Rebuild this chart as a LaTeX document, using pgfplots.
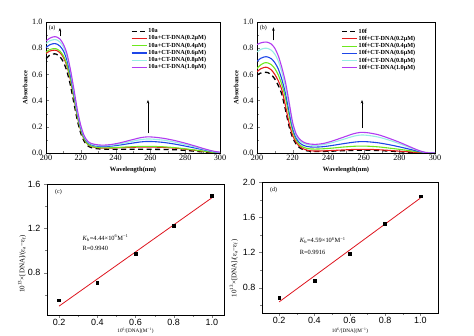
\documentclass[border=0pt]{standalone}
\usepackage{fontspec}
\setmainfont{Liberation Serif}
\newfontfamily\arialfont{Liberation Sans}
\usepackage{pgfplots}
\pgfplotsset{compat=1.18}
\usepackage{pgfplotstable}
\usetikzlibrary{arrows.meta}

\definecolor{cRed}{RGB}{228,28,28}
\definecolor{cGreen}{RGB}{110,232,30}
\definecolor{cBlue}{RGB}{30,70,232}
\definecolor{cCyan}{RGB}{150,238,228}
\definecolor{cPurple}{RGB}{178,60,240}
\definecolor{cLine}{RGB}{222,20,30}

% x, 10a, 0.2, 0.4, 0.6, 0.8, 1.0
\pgfplotstableread{
x k r g b c p
200 0.720 0.760 0.770 0.805 0.835 0.855
202 0.745 0.777 0.788 0.825 0.855 0.875
204 0.755 0.784 0.796 0.834 0.864 0.886
205 0.757 0.785 0.797 0.835 0.866 0.888
206 0.754 0.783 0.795 0.833 0.864 0.886
208 0.735 0.766 0.778 0.816 0.848 0.870
210 0.695 0.730 0.742 0.780 0.810 0.830
212 0.625 0.665 0.675 0.710 0.740 0.760
214 0.520 0.560 0.570 0.600 0.625 0.640
216 0.385 0.425 0.430 0.455 0.475 0.490
218 0.250 0.280 0.285 0.305 0.320 0.330
220 0.150 0.172 0.175 0.190 0.200 0.210
222 0.088 0.103 0.105 0.118 0.125 0.130
224 0.055 0.066 0.068 0.080 0.085 0.090
226 0.041 0.050 0.052 0.063 0.068 0.073
228 0.035 0.043 0.045 0.055 0.060 0.066
230 0.032 0.039 0.041 0.051 0.056 0.062
233 0.030 0.037 0.039 0.049 0.054 0.060
237 0.029 0.038 0.040 0.052 0.058 0.064
242 0.029 0.040 0.043 0.060 0.068 0.076
248 0.029 0.043 0.047 0.072 0.085 0.096
254 0.029 0.045 0.050 0.084 0.101 0.116
258 0.029 0.046 0.051 0.088 0.107 0.123
262 0.028 0.045 0.050 0.087 0.105 0.121
268 0.027 0.042 0.047 0.080 0.097 0.111
274 0.025 0.037 0.041 0.068 0.083 0.095
280 0.020 0.029 0.032 0.053 0.065 0.075
286 0.013 0.020 0.022 0.037 0.045 0.052
290 0.008 0.013 0.015 0.026 0.031 0.036
294 0.003 0.007 0.008 0.015 0.018 0.021
297 0.001 0.004 0.004 0.008 0.010 0.012
300 0.000 0.002 0.002 0.004 0.005 0.006
}\tabA

\pgfplotstableread{
x k r g b c p
200 0.595 0.620 0.645 0.700 0.772 0.828
202 0.610 0.642 0.672 0.722 0.790 0.840
204 0.615 0.653 0.687 0.733 0.799 0.846
205 0.616 0.655 0.690 0.735 0.800 0.847
206 0.614 0.652 0.688 0.733 0.798 0.845
208 0.598 0.635 0.675 0.720 0.785 0.832
210 0.565 0.600 0.645 0.690 0.755 0.800
212 0.515 0.550 0.595 0.640 0.700 0.740
214 0.445 0.480 0.520 0.560 0.615 0.650
216 0.330 0.360 0.420 0.455 0.505 0.540
218 0.205 0.230 0.290 0.320 0.360 0.390
220 0.118 0.135 0.170 0.190 0.215 0.235
222 0.068 0.080 0.098 0.113 0.132 0.145
224 0.040 0.050 0.062 0.077 0.094 0.105
226 0.025 0.032 0.044 0.059 0.075 0.084
228 0.017 0.022 0.035 0.050 0.065 0.073
230 0.013 0.017 0.031 0.046 0.060 0.068
233 0.011 0.015 0.030 0.045 0.058 0.066
237 0.012 0.016 0.032 0.048 0.063 0.072
242 0.014 0.019 0.037 0.057 0.078 0.090
248 0.017 0.023 0.045 0.070 0.102 0.118
254 0.020 0.027 0.051 0.082 0.127 0.146
258 0.021 0.028 0.053 0.087 0.137 0.157
262 0.021 0.028 0.052 0.086 0.135 0.155
268 0.019 0.025 0.047 0.078 0.122 0.140
274 0.015 0.020 0.038 0.064 0.099 0.113
280 0.010 0.014 0.028 0.047 0.071 0.082
286 0.005 0.008 0.017 0.028 0.041 0.047
290 0.002 0.004 0.010 0.015 0.021 0.024
294 0.000 0.001 0.005 0.004 0.005 0.006
297 0.000 0.000 0.003 0.000 0.000 0.000
300 0.000 0.000 0.002 0.000 0.000 0.000
}\tabB

\pgfplotsset{
  specstyle/.style={
    scale only axis, anchor=south west,
    xmin=200, xmax=300, ymin=0, ymax=1.0,
    xtick={200,220,240,260,280,300},
    ytick={0,0.2,0.4,0.6,0.8,1.0},
    minor x tick num=1, minor y tick num=1,
    tick align=inside, xtick pos=left, ytick pos=left,
    major tick length=3pt, minor tick length=1.8pt,
    /pgf/number format/assume math mode=true,
    yticklabel style={/pgf/number format/fixed,/pgf/number format/fixed zerofill,/pgf/number format/precision=1},
    tick label style={font=\fontsize{8.2}{9}\selectfont},
    xticklabel style={yshift=1pt},
    label style={font=\bfseries\fontsize{6.5}{7}\selectfont},
    xlabel={Wavelength(nm)}, ylabel={Absorbance},
    xlabel style={yshift=1pt}, ylabel style={yshift=-2pt},
    every axis plot/.append style={line width=1.1pt, smooth, tension=0.45},
    legend style={draw=none, fill=none, anchor=north west,
      font=\bfseries\fontsize{6.2}{6.8}\selectfont, row sep=-1.0pt,
      nodes={inner sep=1.2pt}},
    legend cell align=left,
    legend image code/.code={\draw[#1] (0pt,0pt) -- (15pt,0pt);},
  },
  fitstyle/.style={
    scale only axis, anchor=south west,
    xmin=0.137, xmax=1.063,
    xtick={0.2,0.4,0.6,0.8,1.0},
    minor xtick={0.3,0.5,0.7,0.9},
    tick align=outside, xtick pos=left, ytick pos=left,
    major tick length=3pt, minor tick length=1.8pt,
    /pgf/number format/assume math mode=true,
    xticklabel style={inner sep=1pt, /pgf/number format/fixed,/pgf/number format/fixed zerofill,/pgf/number format/precision=1},
    yticklabel style={/pgf/number format/fixed,/pgf/number format/fixed zerofill,/pgf/number format/precision=1},
    tick label style={font=\arialfont\fontsize{9}{10}\selectfont},
    ylabel={10\textsuperscript{13}×[DNA]/(ε\textsubscript{a}−ε\textsubscript{f})},
    xlabel={10\textsuperscript{6}/[DNA](M\textsuperscript{−1})},
    ylabel style={font=\fontsize{7}{8}\selectfont, anchor=center, inner sep=0pt},
    xlabel style={font=\fontsize{5.2}{5.8}\selectfont, at={(axis description cs:0.5,0)}, anchor=north, inner sep=0pt},
  },
}

\begin{document}
\begin{tikzpicture}
\path[use as bounding box] (0,0) rectangle (474pt,335pt);
\clip (0,0) rectangle (474pt,335pt);

% (a)
\begin{axis}[specstyle, at={(46pt,182pt)}, width=174pt, height=131pt,
  legend style={at={(axis description cs:0.47,0.975)}}]
\addplot[black, dash pattern=on 5pt off 3.5pt, line width=1.3pt] table[x=x,y=k]{\tabA};
\addplot[cRed] table[x=x,y=r]{\tabA};
\addplot[cGreen] table[x=x,y=g]{\tabA};
\addplot[cBlue] table[x=x,y=b]{\tabA};
\addplot[cCyan] table[x=x,y=c]{\tabA};
\addplot[cPurple] table[x=x,y=p]{\tabA};
\legend{10a,10a+CT-DNA(0.2μM),10a+CT-DNA(0.4μM),10a+CT-DNA(0.6μM),10a+CT-DNA(0.8μM),10a+CT-DNA(1.0μM)}
\node[anchor=north west, inner sep=0pt, font=\fontsize{6}{7}\selectfont] at (rel axis cs:0.015,0.975) {(a)};
\draw[-{Stealth[length=3.5pt,width=2.6pt]}, line width=0.6pt] (axis cs:208,0.89) -- (axis cs:208,0.955);
\draw[-{Stealth[length=3.5pt,width=2.6pt]}, line width=0.6pt] (axis cs:258.6,0.15) -- (axis cs:258.6,0.405);
\end{axis}

% (b)
\begin{axis}[specstyle, at={(257pt,182pt)}, width=178pt, height=131pt,
  legend style={at={(axis description cs:0.455,0.975)}}]
\addplot[black, dash pattern=on 5pt off 3.5pt, line width=1.3pt] table[x=x,y=k]{\tabB};
\addplot[cRed] table[x=x,y=r]{\tabB};
\addplot[cGreen] table[x=x,y=g]{\tabB};
\addplot[cBlue] table[x=x,y=b]{\tabB};
\addplot[cCyan] table[x=x,y=c]{\tabB};
\addplot[cPurple] table[x=x,y=p]{\tabB};
\legend{10f,10f+CT-DNA(0.2μM),10f+CT-DNA(0.4μM),10f+CT-DNA(0.6μM),10f+CT-DNA(0.8μM),10f+CT-DNA(1.0μM)}
\node[anchor=north west, inner sep=0pt, font=\fontsize{6}{7}\selectfont] at (rel axis cs:0.015,0.975) {(b)};
\draw[-{Stealth[length=3.5pt,width=2.6pt]}, line width=0.6pt] (axis cs:209.2,0.86) -- (axis cs:209.2,0.96);
\draw[-{Stealth[length=3.5pt,width=2.6pt]}, line width=0.6pt] (axis cs:259,0.19) -- (axis cs:259,0.405);
\end{axis}

% (c)
\begin{axis}[fitstyle, at={(47pt,20pt)}, width=177pt, height=131pt,
  ymin=0.418, ymax=1.6, ytick={0.8,1.2,1.6}, minor ytick={0.6,1.0,1.4},
  xlabel style={yshift=-13pt},
  ylabel style={at={(axis description cs:-0.141,0.39)}}]
\addplot[cLine, line width=0.8pt] coordinates {(0.2,0.498) (1.0,1.476)};
\addplot[only marks, mark=square*, mark size=1.4pt, black] coordinates {(0.2,0.551) (0.4,0.711) (0.6,0.969) (0.8,1.227) (1.0,1.493)};
\node[anchor=west, inner sep=0pt, font=\fontsize{6.4}{7}\selectfont] at (axis cs:0.322,1.11) {\textit{K}\textsubscript{b}=4.44×10\textsuperscript{6}M\textsuperscript{−1}};
\node[anchor=west, inner sep=0pt, font=\fontsize{6.4}{7}\selectfont] at (axis cs:0.322,1.02) {R=0.9940};
\node[anchor=north west, inner sep=0pt, font=\fontsize{6}{7}\selectfont] at (rel axis cs:0.045,0.96) {(c)};
\end{axis}

% (d)
\begin{axis}[fitstyle, at={(262pt,22pt)}, width=176pt, height=131pt,
  xmin=0.103, xmax=1.10,
  ymin=0.514, ymax=2.0, ytick={0.8,1.2,1.6,2.0}, minor ytick={0.6,1.0,1.4,1.8},
  xlabel style={yshift=-15pt},
  ylabel style={at={(axis description cs:-0.16,0.34)}}]
\addplot[cLine, line width=0.8pt] coordinates {(0.2,0.64) (1.0,1.817)};
\addplot[only marks, mark=square*, mark size=1.4pt, black] coordinates {(0.2,0.686) (0.4,0.88) (0.6,1.19) (0.8,1.53) (1.0,1.84)};
\node[anchor=west, inner sep=0pt, font=\fontsize{6.4}{7}\selectfont] at (axis cs:0.316,1.337) {\textit{K}\textsubscript{b}=4.59×10\textsuperscript{6}M\textsuperscript{−1}};
\node[anchor=west, inner sep=0pt, font=\fontsize{6.4}{7}\selectfont] at (axis cs:0.316,1.2) {R=0.9916};
\node[anchor=north west, inner sep=0pt, font=\fontsize{6}{7}\selectfont] at (rel axis cs:0.045,0.96) {(d)};
\end{axis}
\end{tikzpicture}
\end{document}
